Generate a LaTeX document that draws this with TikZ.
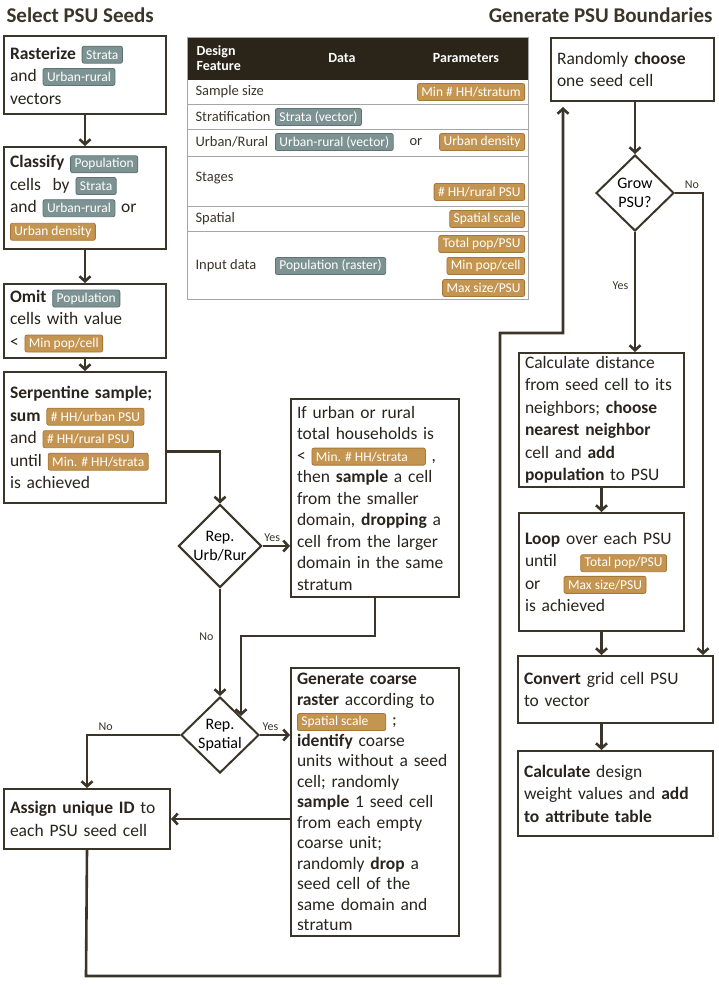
\documentclass[tikz,border=0pt]{standalone}
\usepackage{fontspec}
\setmainfont{Carlito}
\usetikzlibrary{arrows.meta,shapes.geometric}
\definecolor{ink}{HTML}{3B3429}
\definecolor{gfill}{HTML}{7D9393}
\definecolor{gline}{HTML}{5E7272}
\definecolor{ofill}{HTML}{C49550}
\definecolor{oline}{HTML}{A57838}
\definecolor{head}{HTML}{2B2419}
\tikzset{
  tagbase/.style={rounded corners=2pt, text=white, font=\fontsize{13.5}{14}\selectfont,
    inner xsep=4pt, inner ysep=2pt, minimum height=17pt, line width=0.8pt},
  gtag/.style={tagbase, fill=gfill, draw=gline},
  otag/.style={tagbase, fill=ofill, draw=oline},
  box/.style={draw=ink, line width=2pt, anchor=north west, align=left, inner xsep=6pt,
    font=\fontsize{17.5}{22.5}\selectfont, text=ink!70!black},
  dia/.style={draw=ink, line width=2pt, diamond, aspect=1, inner sep=0pt,
    minimum width=78pt, minimum height=76pt, align=center, font=\fontsize{16}{19}\selectfont},
  arr/.style={draw=ink, line width=2.6pt, -{Straight Barb[length=5pt,width=11pt]}},
  lab/.style={font=\fontsize{12}{13}\selectfont, text=ink},
  ttxt/.style={anchor=west, font=\fontsize{14.5}{16}\selectfont, text=ink}
}
\newcommand{\gt}[1]{\tikz[baseline=(t.base)]\node[gtag](t){#1};}
\newcommand{\ot}[1]{\tikz[baseline=(t.base)]\node[otag](t){#1};}
\begin{document}
\begin{tikzpicture}[x=1pt,y=-1pt]
\useasboundingbox (0,0) rectangle (718,985);
% titles
\node[anchor=west, font=\fontsize{21}{23}\selectfont\bfseries, text=ink] (t1) at (3,15) {Select PSU Seeds};
\node[anchor=east, font=\fontsize{21}{23}\selectfont\bfseries, text=ink] (t2) at (716,15) {Generate PSU Boundaries};

% left column
\node[box, text width=150pt, minimum height=78pt] (ras) at (3,35)
  {\textbf{Rasterize} \gt{Strata}\\ and \gt{Urban-rural}\\ vectors};
\node[box, text width=150pt, minimum height=102pt] (cla) at (3,146)
  {\textbf{Classify} \gt{Population}\\ cells~ by \gt{Strata}\\ and \gt{Urban-rural} or\\ \ot{Urban density}};
\node[box, text width=150pt, minimum height=74pt] (omi) at (3,283)
  {\textbf{Omit} \gt{Population}\\ cells with value\\ < \ot{Min pop/cell}};
\node[box, text width=150pt, minimum height=131pt] (ser) at (3,371)
  {\textbf{Serpentine sample;}\\ \textbf{sum} \ot{\# HH/urban PSU}\\ and \ot{\# HH/rural PSU}\\ until \ot{Min. \# HH/strata}\\ is achieved};
\node[dia] (urb) at (220,546) {Rep.\\Urb/Rur};
\node[box, text width=156pt, minimum height=198pt, font=\fontsize{17.5}{21.5}\selectfont] (ifb) at (290,398)
  {If urban or rural\\ total households is\\ < \ot{Min. \# HH/strata\quad} ,\\ then \textbf{sample} a cell\\ from the smaller\\ domain, \textbf{dropping} a\\ cell from the larger\\ domain in the same\\ stratum};
\node[dia] (spa) at (220,735) {Rep.\\Spatial};
\node[box, text width=156pt, minimum height=268pt, font=\fontsize{17.5}{20.5}\selectfont] (coa) at (290,667)
  {\textbf{Generate coarse}\\ \textbf{raster} according to\\ \ot{Spatial scale\quad} ;\\ \textbf{identify} coarse\\ units without a seed\\ cell; randomly\\ \textbf{sample} 1 seed cell\\ from each empty\\ coarse unit;\\ randomly \textbf{drop} a\\ seed cell of the\\ same domain and\\ stratum};
\node[box, text width=154pt, minimum height=60pt] (asg) at (3,788)
  {\textbf{Assign unique ID} to\\ each PSU seed cell};

% table
\fill[head] (187,37) rectangle (528,80);
\draw[gray!70, line width=0.8pt] (187,37) rectangle (528,299);
\foreach \yy in {104,129,156,206,231} \draw[gray!70, line width=0.8pt] (187,\yy) -- (528,\yy);
\node[ttxt, text=white, font=\fontsize{14}{15.5}\selectfont\bfseries, align=left] (h1) at (193,58) {Design\\Feature};
\node[font=\fontsize{14}{15}\selectfont\bfseries, text=white] (h2) at (342,58) {Data};
\node[font=\fontsize{14}{15}\selectfont\bfseries, text=white] (h3) at (466,58) {Parameters};
\node[ttxt] (r1) at (192,92) {Sample size};
\node[ttxt] (r2) at (192,117) {Stratification};
\node[ttxt] (r3) at (192,142) {Urban/Rural};
\node[ttxt] (r4) at (192,178) {Stages};
\node[ttxt] (r5) at (192,219) {Spatial};
\node[ttxt] (r6) at (192,266) {Input data};
\node[otag, anchor=east] (p1) at (525,92) {Min \# HH/stratum};
\node[gtag, anchor=west] (d2) at (275,117) {Strata (vector)};
\node[gtag, anchor=west] (d3) at (275,142) {Urban-rural (vector)};
\node[ttxt] (or) at (406,142) {or};
\node[otag, anchor=east] (p3) at (525,142) {Urban density};
\node[otag, anchor=east] (p4) at (525,192) {\# HH/rural PSU};
\node[otag, anchor=east] (p5) at (525,219) {Spatial scale};
\node[otag, anchor=east] (p6) at (525,244) {Total pop/PSU};
\node[otag, anchor=east] (p7) at (525,266) {Min pop/cell};
\node[otag, anchor=east] (p8) at (525,288) {Max size/PSU};
\node[gtag, anchor=west] (d6) at (275,266) {Population (raster)};

% right column
\node[box, text width=151pt, minimum height=63pt] (rnd) at (550,37)
  {Randomly \textbf{choose}\\ one seed cell};
\node[dia] (grw) at (635,193) {Grow\\PSU?};
\node[box, text width=153pt, minimum height=133pt] (cal) at (518,352)
  {Calculate distance\\ from seed cell to its\\ neighbors; \textbf{choose}\\ \textbf{nearest neighbor}\\ cell and \textbf{add}\\ \textbf{population} to PSU};
\node[box, text width=153pt, minimum height=118pt] (lop) at (518,512)
  {\textbf{Loop} over each PSU\\ until \quad\ot{Total pop/PSU}\\ or \quad\ot{Max size/PSU}\\ is achieved};
\node[box, text width=183pt, minimum height=67pt] (cnv) at (517,655)
  {\textbf{Convert} grid cell PSU\\ to vector};
\node[box, text width=183pt, minimum height=85pt] (des) at (517,750)
  {\textbf{Calculate} design\\ weight values and \textbf{add}\\ \textbf{to attribute table}};

% connectors
\draw[arr] (ras.south) -- (cla.north);
\draw[arr] (cla.south) -- (omi.north);
\draw[arr] (omi.south) -- (ser.north);
\draw[arr] ([yshift=-14pt]ser.east) -| (urb.north);
\draw[arr] (urb.east) -- (ifb.west |- urb.east) node[lab, pos=0.35, above] {Yes};
\draw[arr] (urb.south) -- (spa.north) node[lab, pos=0.45, left=2pt] {No};
\coordinate (sj) at (241,716);
\draw[arr] (ifb.south) -- ++(0,38) -| (sj);
\draw[arr] (spa.east) -- (coa.west |- spa.east) node[lab, pos=0.35, above] {Yes};
\draw[arr] (spa.west) -| (asg.north) node[lab, pos=0.4, above] {No};
\draw[arr] (coa.west |- asg.east) -- (asg.east);
\coordinate (b1) at (86,976);
\coordinate (b2) at (500,976);
\coordinate (b3) at (500,333);
\coordinate (b4) at (563,333);
\coordinate (b5) at (563,107);
\draw[arr] (asg.south) -- (b1) -- (b2) -- (b3) -- (b4) -- (b5);
\draw[arr] (rnd.south -| grw.north) -- (grw.north);
\draw[arr] (grw.south) -- (grw.south |- cal.north) node[lab, pos=0.45, left=2pt] {Yes};
\coordinate (nj) at (703,655);
\draw[arr] (grw.east) -| (nj) node[lab, pos=0.3, above] {No};
\draw[arr] (cal.south) -- (lop.north);
\draw[arr] (lop.south) -- (lop.south |- cnv.north);
\draw[arr] (lop.south |- cnv.south) -- (lop.south |- des.north);
\end{tikzpicture}
\end{document}
